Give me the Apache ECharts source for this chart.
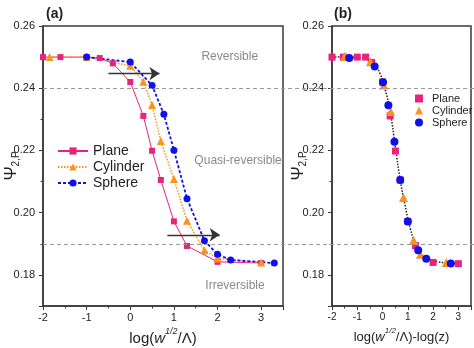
<!DOCTYPE html>
<html>
<head>
<meta charset="utf-8">
<script src="https://cdn.jsdelivr.net/npm/echarts@6/dist/echarts.min.js"></script>
<style>
  html, body { margin: 0; padding: 0; background: #fff; }
  #chart { width: 474px; height: 348px; }
</style>
</head>
<body>
<div id="chart"></div>
<script>
// Panel (a): peak function versus log(w^1/2 / Λ) for the three geometries
const planeA = [[-2, 0.2500], [-1.6, 0.2500], [-1, 0.2500], [-0.7, 0.2497], [-0.4, 0.2480], [0, 0.2420], [0.3, 0.2311], [0.5, 0.2199], [0.7, 0.2105], [1.0, 0.1972], [1.3, 0.1893], [2.0, 0.1842], [3.0, 0.1838]];
const cylinderA = [[-1.85, 0.2500], [-1, 0.2500], [0, 0.2472], [0.3, 0.2421], [0.5, 0.2346], [0.7, 0.2230], [1.0, 0.2108], [1.3, 0.1974], [1.7, 0.1879], [2.0, 0.1853], [3.0, 0.1840]];
const sphereA = [[-1, 0.2500], [0, 0.2484], [0.5, 0.2409], [0.77, 0.2316], [1.0, 0.2201], [1.3, 0.2045], [1.7, 0.1910], [2.0, 0.1866], [2.3, 0.1848], [3.3, 0.1838]];

// Panel (b): the same data against log(w^1/2 / Λ) - log(z)
const planeB = [[-2, 0.2500], [-1.55, 0.2500], [-1.0, 0.2500], [-0.67, 0.2500], [-0.43, 0.2483], [0, 0.2420], [0.3, 0.2311], [0.51, 0.2198], [0.7, 0.2105], [1.0, 0.1972], [1.3, 0.1894], [2.0, 0.1840], [3.0, 0.1836]];
const cylinderB = [[-1.5, 0.2502], [-0.48, 0.2485], [0.05, 0.2410], [0.32, 0.2325], [0.83, 0.2049], [1.23, 0.1911], [1.5, 0.1866], [2.52, 0.1840]];
const sphereB = [[-1.32, 0.2497], [-0.31, 0.2470], [0.02, 0.2419], [0.23, 0.2345], [0.47, 0.2228], [0.70, 0.2105], [1.0, 0.1972], [1.41, 0.1879], [1.73, 0.1852], [2.7, 0.1837]];
// master curve through the collapsed points
const masterCurve = [[-2, 0.2500], [-1.5, 0.2500], [-1, 0.2498], [-0.5, 0.2488], [-0.3, 0.2474], [-0.1, 0.2447], [0.1, 0.2397], [0.3, 0.2325], [0.5, 0.2215], [0.7, 0.2105], [0.9, 0.2020], [1.1, 0.1948], [1.3, 0.1900], [1.5, 0.1869], [1.8, 0.1851], [2.2, 0.1842], [2.7, 0.1838], [3.0, 0.1836]];

// regime boundaries and shift arrows
const boundaries = [0.2425, 0.1893];
const arrows = [[[-0.5, 0.2447], [0.67, 0.2447]], [[0.85, 0.1929], [2.05, 0.1929]]];
const regimes = [
  { name: 'Reversible', coord: [2.28, 0.2502] },
  { name: 'Quasi-reversible', coord: [2.47, 0.2168] },
  { name: 'Irreversible', coord: [2.40, 0.1765] }
];

const seriesNames = ['Plane', 'Cylinder', 'Sphere'];
const yMin = 0.17, yMax = 0.26;
const xMin = -2, xMax = 3.5;

const FONT = 'Liberation Sans, Arial, sans-serif';
const AXIS = '#3a3a3a';
const PINK = '#e8237e', ORANGE = '#f7941d', BLUE = '#1010e8';

function xAxisFor(grid, fontSize, nameRich, nameText) {
  return {
    gridIndex: grid, type: 'value', min: xMin, max: xMax, interval: 1,
    axisLine: { onZero: false, lineStyle: { color: AXIS, width: 1.5 } },
    axisTick: { show: true, length: 4, lineStyle: { color: AXIS, width: 1 } },
    minorTick: { show: true, splitNumber: 2, length: 2.5, lineStyle: { color: AXIS } },
    splitLine: { show: false },
    axisLabel: {
      color: '#222', fontSize: fontSize, fontFamily: FONT, margin: 6,
      formatter: v => (Number.isInteger(v) ? String(v) : '')
    },
    name: nameText, nameLocation: 'middle', nameGap: 21, nameMoveOverlap: false,
    nameTextStyle: { rich: nameRich }
  };
}
function yAxisFor(grid, gap) {
  return {
    gridIndex: grid, type: 'value', min: yMin, max: yMax, splitNumber: 5,
    axisLine: { onZero: false, lineStyle: { color: AXIS, width: 1.5 } },
    axisTick: { show: true, length: 4, lineStyle: { color: AXIS, width: 1 } },
    minorTick: { show: true, splitNumber: 2, length: 2.5, lineStyle: { color: AXIS } },
    splitLine: { show: false },
    axisLabel: {
      color: '#222', fontSize: 11, fontFamily: FONT, margin: 8,
      formatter: v => (Math.round(v * 1000) % 20 === 0 ? v.toFixed(2) : '')
    },
    name: '{p|Ψ}{s|2,P}', nameLocation: 'middle', nameGap: gap, nameRotate: 90,
    nameMoveOverlap: false,
    nameTextStyle: {
      rich: {
        p: { fontSize: 17, fontFamily: FONT, color: '#222', lineHeight: 22, verticalAlign: 'middle' },
        s: { fontSize: 10, fontFamily: FONT, color: '#222', verticalAlign: 'bottom', padding: [0, 0, 1, 0] }
      }
    }
  };
}
function xRich(size, supSize) {
  return {
    t: { fontSize: size, fontFamily: FONT, color: '#222', lineHeight: size + 4, verticalAlign: 'bottom' },
    i: { fontSize: size, fontFamily: FONT, color: '#222', fontStyle: 'italic', lineHeight: size + 4, verticalAlign: 'bottom' },
    s: { fontSize: supSize, fontFamily: FONT, color: '#222', fontStyle: 'italic', verticalAlign: 'top' }
  };
}

const styles = {
  Plane: { symbol: 'rect', size: 6, color: PINK, line: { type: 'solid', width: 1 } },
  Cylinder: { symbol: 'triangle', size: 8, color: ORANGE, line: { type: [1.5, 1.5], width: 1.5 } },
  Sphere: { symbol: 'circle', size: 7, color: BLUE, line: { type: [3, 2], width: 1.8 } }
};
const dataA = { Plane: planeA, Cylinder: cylinderA, Sphere: sphereA };
const dataB = { Plane: planeB, Cylinder: cylinderB, Sphere: sphereB };

const series = [];
// full-width dashed regime boundaries
series.push({
  type: 'line', xAxisIndex: 2, yAxisIndex: 2, data: [], z: 1, silent: true,
  markLine: {
    silent: true, symbol: 'none', label: { show: false },
    lineStyle: { color: '#9a9a9a', type: [4, 3], width: 1 },
    data: boundaries.map(v => ({ yAxis: v }))
  }
});
// panel (a) curves
seriesNames.forEach(n => {
  const s = styles[n];
  series.push({
    name: n, type: 'line', xAxisIndex: 0, yAxisIndex: 0, data: dataA[n],
    symbol: s.symbol, symbolSize: s.size, z: 3,
    itemStyle: { color: s.color },
    lineStyle: { color: s.color, type: s.line.type, width: s.line.width }
  });
});
// arrows and regime labels in panel (a)
series.push({
  type: 'line', xAxisIndex: 0, yAxisIndex: 0, data: [], z: 4, silent: true,
  markLine: {
    silent: true, symbol: ['none', 'arrow'], symbolSize: 10,
    label: { show: false },
    lineStyle: { color: '#333', type: 'solid', width: 1.3 },
    data: arrows.map(a => [{ coord: a[0] }, { coord: a[1] }])
  },
  markPoint: {
    silent: true, symbol: 'circle', symbolSize: 0,
    itemStyle: { color: 'rgba(0,0,0,0)' },
    label: { show: true, position: 'inside', formatter: p => p.name, color: '#8a8a8a', fontSize: 12, fontFamily: FONT },
    data: regimes
  }
});
// panel (b) master curve and points
series.push({
  type: 'line', xAxisIndex: 1, yAxisIndex: 1, data: masterCurve, smooth: true,
  symbol: 'none', z: 2, silent: true,
  lineStyle: { color: '#222', type: [1.5, 1.5], width: 1.5 }
});
seriesNames.forEach(n => {
  const s = styles[n];
  series.push({
    name: n, type: 'scatter', xAxisIndex: 1, yAxisIndex: 1, data: dataB[n],
    symbol: s.symbol, symbolSize: s.size + 1, z: 3,
    itemStyle: { color: s.color, opacity: 1 }
  });
});

const gridBase = { top: 26, height: 280, outerBoundsMode: 'none', containLabel: false };
const chart = echarts.init(document.getElementById('chart'), null, { renderer: 'canvas' });
chart.setOption({
  animation: false,
  backgroundColor: '#fff',
  title: [
    { text: '(a)', left: 41, top: 2, textStyle: { fontSize: 14, fontWeight: 'bold', fontFamily: FONT, color: '#222' } },
    { text: '(b)', left: 329, top: 2, textStyle: { fontSize: 14, fontWeight: 'bold', fontFamily: FONT, color: '#222' } }
  ],
  grid: [
    Object.assign({ left: 43, width: 240, show: true, borderColor: AXIS, borderWidth: 1.5, backgroundColor: 'transparent' }, gridBase),
    Object.assign({ left: 332, width: 139, show: true, borderColor: AXIS, borderWidth: 1.5, backgroundColor: 'transparent' }, gridBase),
    Object.assign({ left: 43, width: 431, show: false }, gridBase)
  ],
  xAxis: [
    xAxisFor(0, 11, xRich(15, 9), '{t|log(}{i|w}{s|1/2}{t|/Λ)}'),
    xAxisFor(1, 10, xRich(13, 8), '{t|log(}{i|w}{s|1/2}{t|/Λ)-log(z)}'),
    { gridIndex: 2, type: 'value', min: 0, max: 1, show: false }
  ],
  yAxis: [
    yAxisFor(0, 21),
    yAxisFor(1, 23),
    { gridIndex: 2, type: 'value', min: yMin, max: yMax, show: false }
  ],
  legend: [
    {
      data: seriesNames, orient: 'vertical', left: 52, top: 139,
      itemWidth: 30, itemHeight: 9, itemGap: 2,
      textStyle: { fontSize: 14, fontFamily: FONT, color: '#222' }
    },
    {
      data: seriesNames, orient: 'vertical', left: 405, top: 88,
      itemWidth: 16, itemHeight: 10, itemGap: 1,
      lineStyle: { opacity: 0 },
      textStyle: { fontSize: 11, fontFamily: FONT, color: '#222' }
    }
  ],
  series: series
});
</script>
</body>
</html>
